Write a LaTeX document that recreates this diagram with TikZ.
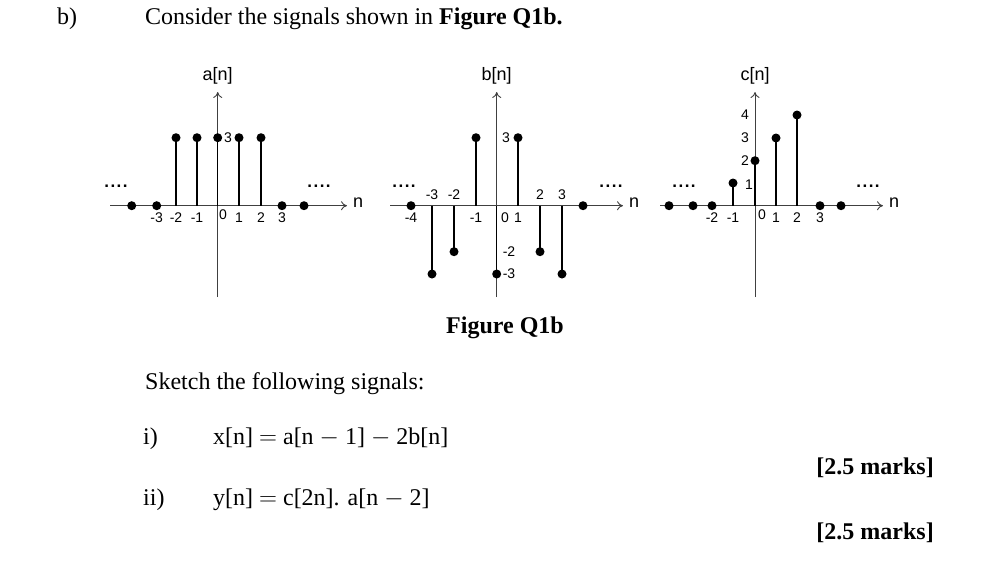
\documentclass[tikz,border=0pt]{standalone}
\usetikzlibrary{arrows.meta}
\usepackage{fontspec}
\setmainfont{Liberation Serif}
\newfontfamily\arl{Liberation Sans}
\begin{document}
\begin{tikzpicture}[x=1pt,y=-1pt,
  ax/.style={draw=black!75,line width=0.9pt,-{To[length=6pt,width=9pt]}},
  stem/.style={line width=1.5pt},
  dot/.style={circle,fill=black,inner sep=0pt,minimum size=9pt},
  tk/.style={font=\arl\fontsize{14}{14}\selectfont,inner sep=0pt},
  lab/.style={font=\arl\fontsize{18}{18}\selectfont,inner sep=0pt},
  dots/.style={font=\arl\bfseries\fontsize{17}{17}\selectfont,inner sep=0pt},
  txt/.style={font=\fontsize{24}{24}\selectfont,inner sep=0pt,anchor=base west}]
\useasboundingbox (0,0) rectangle (1000,581);
\newcommand\mydots{.\hspace{1.5pt}.\hspace{1.5pt}.\hspace{1.5pt}.}
% ---------- a[n]
\draw[ax] (110,205.7) -- (347,205.7);
\draw[ax] (217.7,297) -- (217.7,92);
\node[lab] (alab) at (217.7,76) {a[n]};
\node[lab] (an) at (358,203) {n};
\foreach \x in {176,197,217.7,239,261}{\draw[stem] (\x,205.7)--(\x,137.7); \node[dot] at (\x,137.7){};}
\foreach \x in {131.7,156.7,282,304}{\node[dot] at (\x,205.7){};}
\node[tk] at (228,138){3};
\foreach \x/\t in {156.7/-3,176/-2,197/-1,239/1,261/2,282/3}{\node[tk] at (\x,218){\t};}
\node[tk] at (223,215){0};
\node[dots] at (116,186){\mydots};
\node[dots] at (319,186){\mydots};
% ---------- b[n]
\draw[ax] (390,205.7) -- (623,205.7);
\draw[ax] (496.7,297) -- (496.7,92);
\node[lab] (blab) at (496.7,76) {b[n]};
\node[lab] (bn) at (634,203) {n};
\foreach \x/\y in {432/274,454/251.7,476/137.7,496.7/274,518/137.7,540/251.7,562/274}{\draw[stem] (\x,205.7)--(\x,\y); \node[dot] at (\x,\y){};}
\foreach \x in {411,583}{\node[dot] at (\x,205.7){};}
\foreach \x/\t in {432/-3,454/-2,540/2,562/3}{\node[tk] at (\x,195){\t};}
\foreach \x/\t in {411/-4,476/-1,518/1}{\node[tk] at (\x,218){\t};}
\node[tk] at (505,218){0};
\node[tk] at (506,138){3};
\node[tk] at (509,252){-2};
\node[tk] at (509,274){-3};
\node[dots] at (404,186){\mydots};
\node[dots] at (611,186){\mydots};
% ---------- c[n]
\draw[ax] (660,205.7) -- (883,205.7);
\draw[ax] (755,297) -- (755,92);
\node[lab] (clab) at (755,76) {c[n]};
\node[lab] (cn) at (894,203) {n};
\foreach \x/\y in {733/183,755/160.7,776/138,797/115}{\draw[stem] (\x,205.7)--(\x,\y); \node[dot] at (\x,\y){};}
\foreach \x in {669,693,712,820,841}{\node[dot] at (\x,205.7){};}
\foreach \x/\t in {712/-2,733/-1,776/1,797/2,820/3}{\node[tk] at (\x,218){\t};}
\node[tk] at (762,215){0};
\node[tk] at (745,115){4};
\node[tk] at (745,138){3};
\node[tk] at (745,161){2};
\node[tk] at (749,185){1};
\node[dots] at (684,186){\mydots};
\node[dots] at (868,186){\mydots};
% ---------- text
\node[txt] (tb) at (57,24) {b)};
\node[txt] (tc) at (145,24) {Consider the signals shown in \textbf{Figure Q1b.}};
\node[txt,anchor=base] (tf) at (505,333) {\textbf{Figure Q1b}};
\node[txt] (ts) at (145,389) {Sketch the following signals:};
\node[txt] (ti) at (143,444) {i)};
\node[txt] (tx) at (213,444) {x[n] $=$ a[n $-$ 1] $-$ 2b[n]};
\node[txt,anchor=base east] (m1) at (934,474) {\textbf{[2.5 marks]}};
\node[txt] (tii) at (143,505) {ii)};
\node[txt] (ty) at (213,505) {y[n] $=$ c[2n]. a[n $-$ 2]};
\node[txt,anchor=base east] (m2) at (934,539) {\textbf{[2.5 marks]}};
\end{tikzpicture}
\end{document}
